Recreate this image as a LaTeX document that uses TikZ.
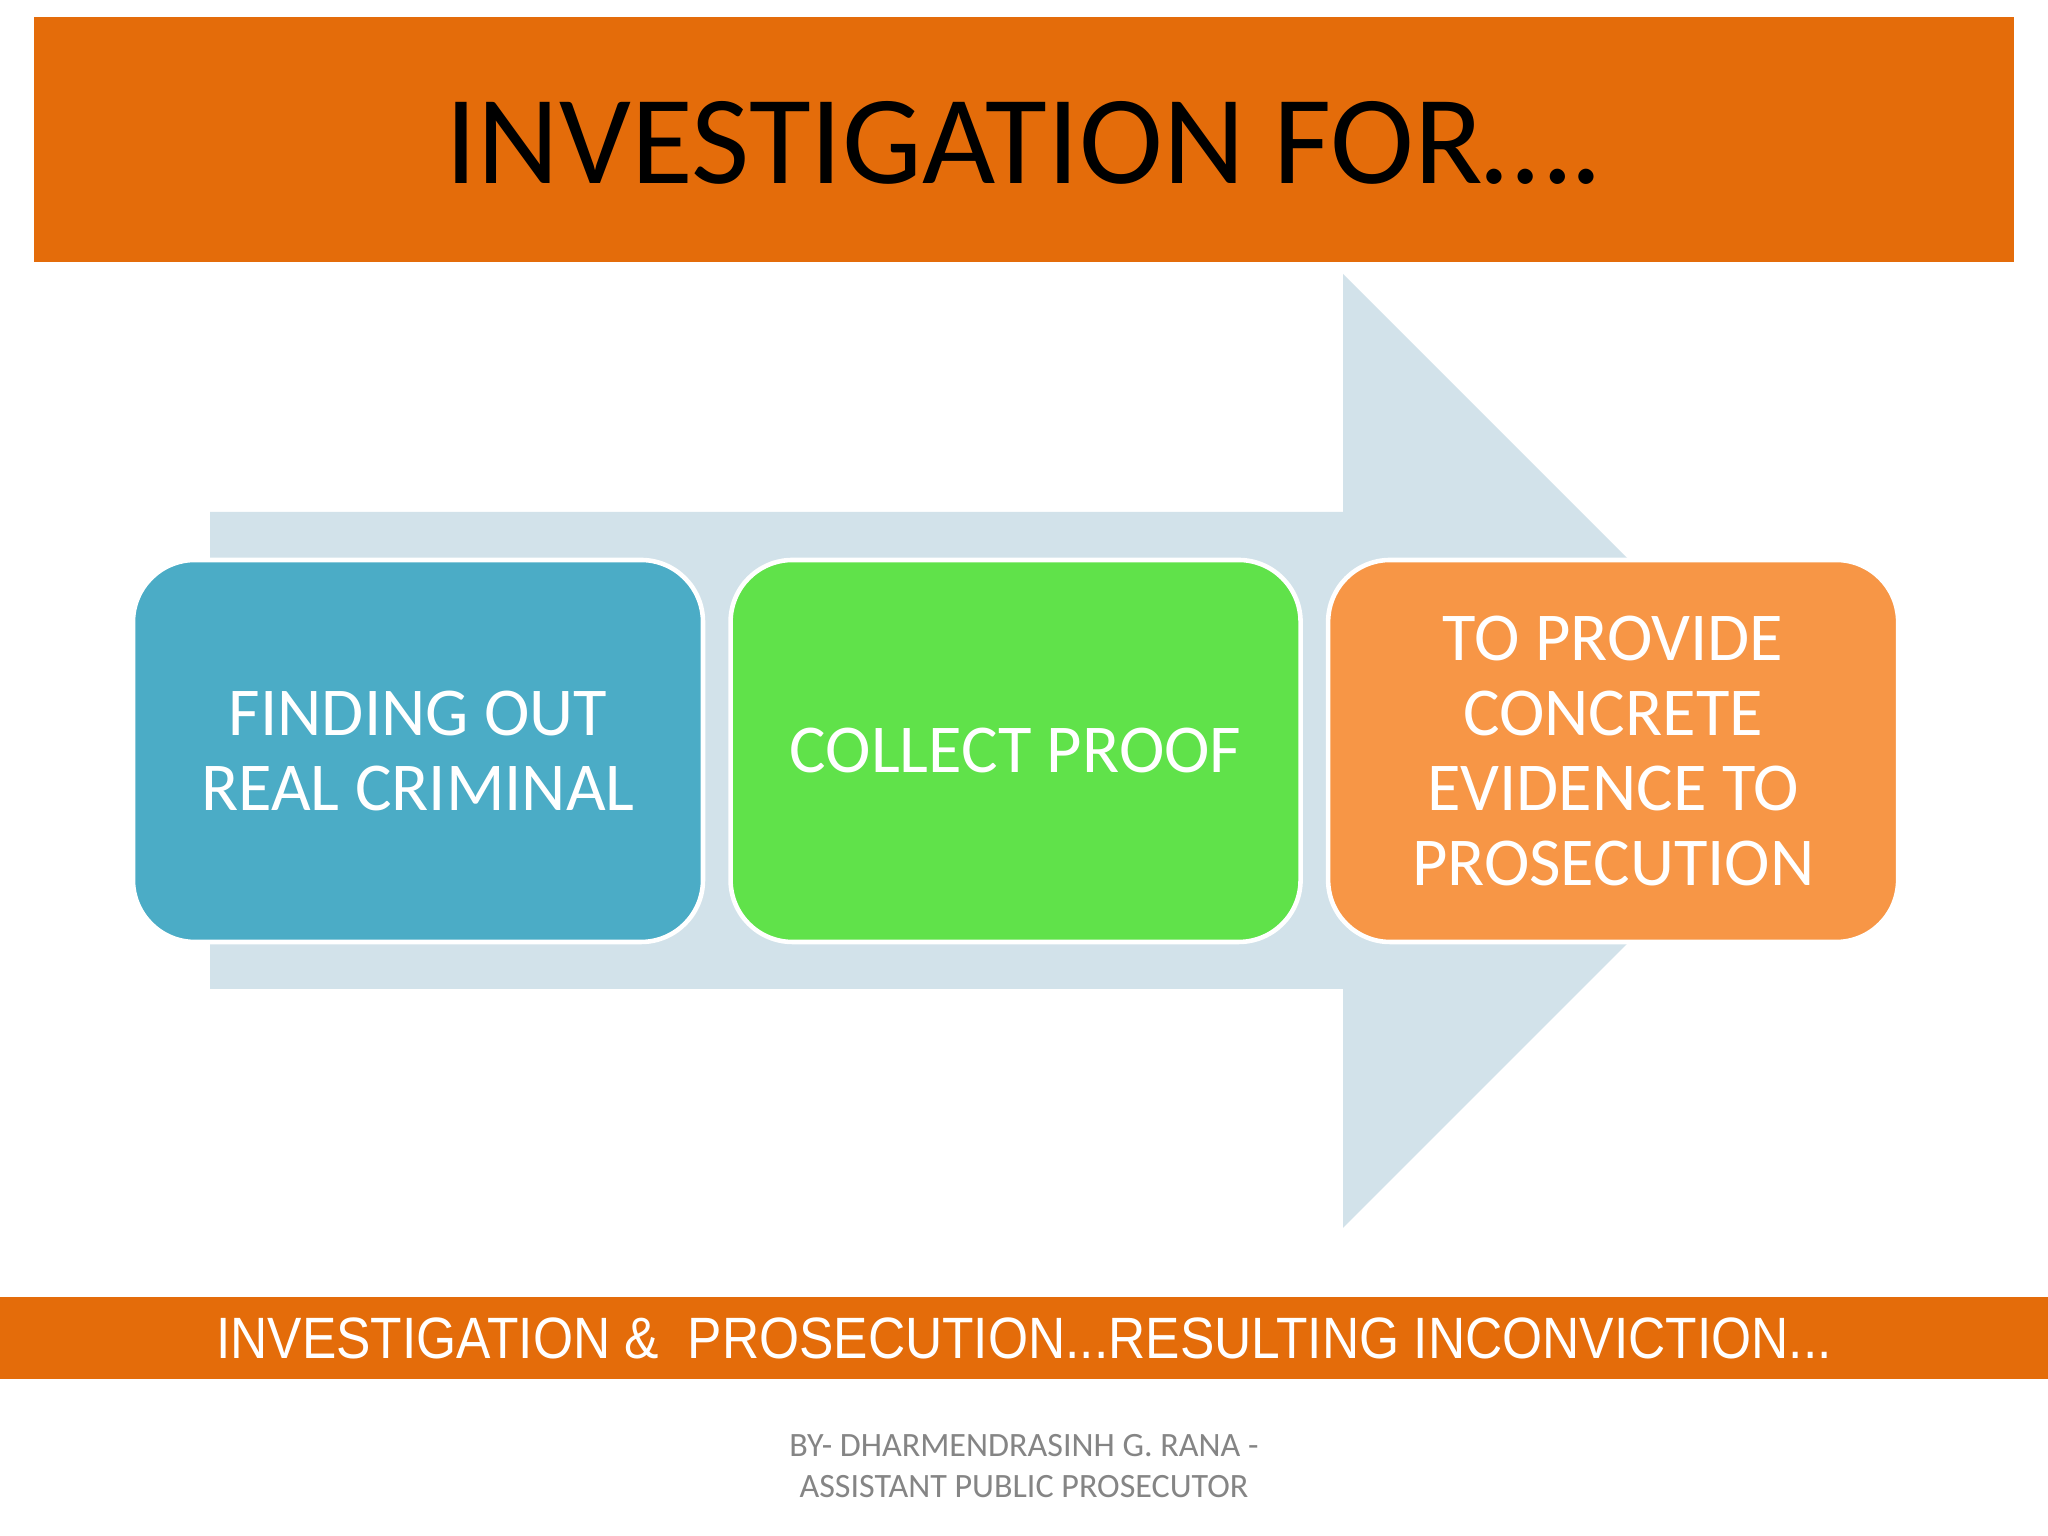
\documentclass[tikz,border=0pt]{standalone}
\usepackage{fontspec}
\setmainfont{Carlito}
\newfontfamily\arialfont[FakeStretch=0.883]{Liberation Sans}
\usetikzlibrary{positioning}
\definecolor{bandorange}{HTML}{E46C0A}
\definecolor{arrowblue} {HTML}{D2E2EA}
\definecolor{stepblue}  {HTML}{4BACC6}
\definecolor{stepgreen} {HTML}{60E24A}
\definecolor{steporange}{HTML}{F79646}
\definecolor{footgray}  {HTML}{858585}
\tikzset{
  stepbox/.style  ={draw=white, line width=1.3pt, rounded corners=0.62cm,
                    minimum width=5.7cm, minimum height=3.82cm, inner sep=0pt,
                    align=center, text=white,
                    font=\fontsize{19.5}{21.3}\selectfont},
  band/.style     ={fill=bandorange, draw=none, inner sep=0pt},
  bandtext/.style ={text=white, font=\arialfont\fontsize{16.6}{18}\selectfont},
  foot/.style     ={text=footgray, align=center,
                    font=\fontsize{9.7}{11.6}\selectfont},
}

\begin{document}
\begin{tikzpicture}
    \useasboundingbox (0,0) rectangle (20.48,15.36);
    \fill[white] (0,0) rectangle (20.48,15.36);
    % title band
    \node[band, minimum width=19.8cm, minimum height=2.45cm] (topband) at (10.24,13.965) {};
    \node[font=\fontsize{36}{40}\selectfont] (title) at (10.24,13.93) {INVESTIGATION FOR….};
    % big arrow behind the steps
    \fill[arrowblue] (2.10,10.24) -- (13.43,10.24) -- (13.43,12.62) -- (18.20,7.85)
        -- (13.43,3.08) -- (13.43,5.47) -- (2.10,5.47) -- cycle;
    % steps
    \node[stepbox, fill=stepblue] (find) at (4.18,7.85) {FINDING OUT\\REAL CRIMINAL};
    \node[stepbox, fill=stepgreen, right=0.23cm of find] (collect) {COLLECT PROOF};
    \node[stepbox, fill=steporange, right=0.23cm of collect] (provide)
        {TO PROVIDE\\CONCRETE\\EVIDENCE TO\\PROSECUTION};
    % bottom band
    \node[band, minimum width=20.48cm, minimum height=0.82cm] (lowband) at (10.24,1.98) {};
    \node[bandtext] (result) at (lowband) {INVESTIGATION \&\ \ PROSECUTION...RESULTING INCONVICTION...};
    \node[foot] (author) at (10.24,0.70) {BY- DHARMENDRASINH G. RANA -\\ASSISTANT PUBLIC PROSECUTOR};
\end{tikzpicture}
\end{document}
